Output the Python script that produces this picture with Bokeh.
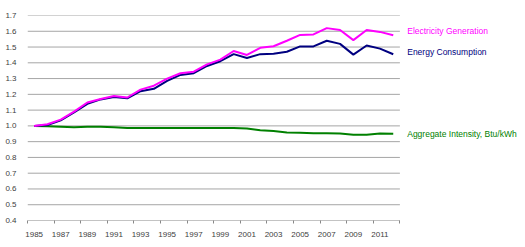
from bokeh.plotting import figure
from bokeh.models import Range1d, FixedTicker, NumeralTickFormatter
from bokeh.core.properties import value
from bokeh.embed import file_html
from bokeh.resources import INLINE

years = list(range(1985, 2013))
electricity_generation = [1.00, 1.01, 1.04, 1.09, 1.148, 1.17, 1.19, 1.18, 1.23, 1.255,
                          1.30, 1.334, 1.344, 1.39, 1.42, 1.475, 1.45, 1.495, 1.505, 1.54,
                          1.577, 1.58, 1.62, 1.608, 1.544, 1.608, 1.596, 1.575]
energy_consumption = [1.00, 1.005, 1.035, 1.085, 1.14, 1.168, 1.183, 1.175, 1.22, 1.235,
                      1.285, 1.323, 1.334, 1.38, 1.41, 1.455, 1.43, 1.455, 1.458, 1.47,
                      1.504, 1.504, 1.54, 1.52, 1.452, 1.51, 1.49, 1.454]
aggregate_intensity = [1.00, 0.997, 0.994, 0.991, 0.995, 0.995, 0.992, 0.987, 0.986, 0.986,
                       0.986, 0.986, 0.986, 0.986, 0.986, 0.986, 0.983, 0.973, 0.967, 0.958,
                       0.956, 0.954, 0.954, 0.952, 0.944, 0.944, 0.952, 0.95]
y_ticks = [0.4, 0.5, 0.6, 0.7, 0.8, 0.9, 1.0, 1.1, 1.2, 1.3, 1.4, 1.5, 1.6, 1.7]
x_tick_years = list(range(1985, 2013, 2))
series_names = ["Electricity Generation", "Energy Consumption", "Aggregate Intensity, Btu/kWh"]
series_colors = ["#ff00ff", "#000080", "#008000"]
label_y = [1.604, 1.467, 0.95]

FONT = "Liberation Sans"
X0, X1 = 1984.5, 2012.5
PX_PER_YEAR = 13.3
FRAME_W = 517 - 27
X_FAR = X0 + FRAME_W / PX_PER_YEAR

p = figure(width=517, height=239, output_backend="svg", toolbar_location=None,
           x_range=Range1d(X0, X_FAR), y_range=Range1d(0.4, 1.7),
           min_border_left=27, min_border_right=0, min_border_top=15, min_border_bottom=16)
p.outline_line_color = None
p.background_fill_color = "white"
p.border_fill_color = "white"

# y axis
p.yaxis.ticker = FixedTicker(ticks=y_ticks)
p.yaxis.formatter = NumeralTickFormatter(format="0.0")
p.yaxis.axis_line_color = None
p.yaxis.major_tick_line_color = None
p.yaxis.minor_tick_line_color = None
p.yaxis.major_label_standoff = 5
p.yaxis.major_label_text_font = FONT
p.yaxis.major_label_text_font_size = "8px"
p.yaxis.major_label_text_color = "#404040"

# x axis (line drawn as bottom gridline)
p.xaxis.ticker = FixedTicker(ticks=x_tick_years,
                             minor_ticks=[y - 0.5 for y in x_tick_years] + [X1])
p.xaxis.axis_line_color = None
p.xaxis.major_tick_line_color = None
p.xaxis.minor_tick_line_color = "#888888"
p.xaxis.minor_tick_in = 0
p.xaxis.minor_tick_out = 3
p.xaxis.major_label_standoff = 5
p.xaxis.major_label_text_font = FONT
p.xaxis.major_label_text_font_size = "8px"
p.xaxis.major_label_text_color = "#404040"

p.xgrid.grid_line_color = None
p.ygrid.grid_line_color = None

# horizontal gridlines limited to the category span
p.segment(x0=[X0] * len(y_ticks), x1=[X1] * len(y_ticks), y0=y_ticks, y1=y_ticks,
          line_color=["#888888"] + ["#a6a6a6"] * (len(y_ticks) - 1), line_width=1)

for vals, col in [(aggregate_intensity, series_colors[2]),
                  (energy_consumption, series_colors[1]),
                  (electricity_generation, series_colors[0])]:
    p.line(years, vals, line_color=col, line_width=2)

p.text(x=[X1 + 0.55] * 3, y=label_y, text=series_names, text_color=series_colors,
       text_font=value(FONT), text_font_size="8.5px",
       text_baseline="middle", text_align="left")

open("out.html", "w").write(file_html(p, INLINE))
